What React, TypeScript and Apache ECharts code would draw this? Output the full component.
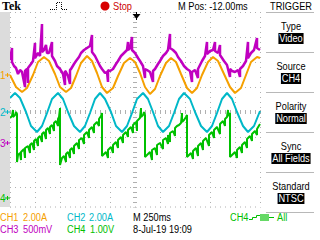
import React, { useEffect, useRef } from 'react';
import * as echarts from 'echarts';

// time in ms relative to screen centre, values in screen divisions
const ch1Data: number[][] = [
  [-1250, 1.48], [-1190, 1.0], [-1130, 0.8], [-1080, 0.96], [-1020, 1.48], [-970, 2.0], [-910, 2.2], [-860, 2.04],
  [-800, 1.52], [-750, 1.0], [-690, 0.8], [-640, 0.96], [-590, 1.44], [-540, 1.96], [-480, 2.24], [-430, 2.04],
  [-380, 1.56], [-330, 1.0], [-280, 0.76], [-220, 0.96], [-170, 1.44], [-110, 1.96], [-50, 2.16], [0, 2.0],
  [50, 1.56], [100, 1.0], [150, 0.72], [200, 0.92], [250, 1.44], [310, 1.96], [360, 2.16], [410, 2.0],
  [460, 1.52], [520, 0.96], [570, 0.76], [620, 0.96], [670, 1.48], [730, 2.0], [780, 2.2], [830, 2.04],
  [890, 1.52], [950, 1.0], [1000, 0.76], [1060, 0.96], [1110, 1.48], [1160, 2.0], [1220, 2.2], [1250, 2.16],
];

const ch2Data: number[][] = [
  [-1250, 0.56], [-1200, 0.76], [-1150, 0.56], [-1090, 0], [-1040, -0.56], [-980, -0.8], [-930, -0.56], [-880, -0.04],
  [-830, 0.52], [-770, 0.76], [-720, 0.52], [-670, 0], [-610, -0.56], [-550, -0.8], [-500, -0.56], [-450, -0.04],
  [-400, 0.52], [-350, 0.76], [-300, 0.52], [-240, 0], [-190, -0.56], [-130, -0.8], [-80, -0.56], [-30, -0.04],
  [20, 0.52], [80, 0.76], [130, 0.52], [180, 0], [230, -0.56], [280, -0.8], [340, -0.56], [390, -0.04],
  [440, 0.52], [490, 0.76], [550, 0.52], [600, 0], [660, -0.56], [720, -0.8], [770, -0.56], [820, -0.04],
  [870, 0.52], [920, 0.76], [970, 0.52], [1020, 0], [1080, -0.56], [1130, -0.8], [1190, -0.56], [1250, 0.04],
];

const ch3Data: number[][] = [
  [-1250, 2.08], [-1230, 2.56], [-1230, 2.0], [-1210, 1.84], [-1190, 1.76], [-1170, 1.52], [-1150, 1.68], [-1130, 1.6],
  [-1100, 1.0], [-1100, 1.64], [-1080, 1.72], [-1070, 1.16], [-1070, 1.76], [-1040, 1.92], [-1020, 2.04], [-1000, 2.76],
  [-1000, 2.16], [-970, 2.36], [-950, 2.24], [-930, 3.52], [-930, 2.4], [-910, 2.48], [-890, 2.68], [-880, 2.36],
  [-860, 2.36], [-830, 2.8], [-830, 2.24], [-800, 2.04], [-780, 1.84], [-750, 1.72], [-720, 1.52], [-700, 1.08],
  [-700, 1.64], [-690, 1.6], [-670, 1.44], [-650, 1.12], [-650, 1.68], [-640, 1.72], [-610, 1.92], [-590, 2.04],
  [-560, 2.2], [-540, 2.36], [-510, 2.48], [-480, 2.56], [-450, 2.64], [-430, 3.08], [-430, 2.4], [-400, 2.24],
  [-380, 2.08], [-350, 1.84], [-330, 1.72], [-300, 1.56], [-280, 1.6], [-270, 1.2], [-270, 1.68], [-250, 1.64],
  [-220, 1.72], [-190, 1.92], [-170, 2.04], [-140, 2.24], [-110, 2.36], [-80, 2.48], [-70, 2.8], [-70, 2.48],
  [-50, 2.56], [-30, 3.0], [-30, 2.48], [0, 2.36], [30, 2.16], [50, 2.04], [80, 1.84], [100, 1.36],
  [100, 1.72], [120, 1.68], [150, 1.6], [180, 1.2], [180, 1.64], [200, 1.72], [230, 1.92], [250, 2.04],
  [280, 2.24], [310, 2.36], [330, 2.48], [350, 3.12], [350, 2.56], [380, 2.48], [410, 2.36], [430, 2.2],
  [460, 2.04], [490, 1.84], [520, 1.72], [550, 1.64], [570, 1.2], [570, 1.6], [600, 1.68], [630, 1.36],
  [630, 1.72], [650, 1.88], [670, 2.04], [700, 2.24], [720, 2.8], [720, 2.32], [750, 2.44], [780, 2.48],
  [800, 2.8], [800, 2.44], [830, 2.36], [850, 2.68], [850, 2.28], [870, 2.16], [890, 2.04], [920, 1.88],
  [950, 1.4], [950, 1.72], [970, 1.64], [1000, 1.6], [1030, 1.68], [1050, 1.4], [1050, 1.72], [1080, 1.84],
  [1110, 2.04], [1130, 2.8], [1130, 2.16], [1160, 2.36], [1190, 2.48], [1220, 2.96], [1220, 2.56], [1250, 2.48],
];

const ch4Data: number[][] = [
  [-1250, -0.24], [-1230, -0.16], [-1220, 0.08], [-1220, -0.2], [-1200, -0.12], [-1190, 0], [-1180, -0.08], [-1180, -2.0],
  [-1170, -1.72], [-1150, -1.64], [-1140, -1.92], [-1140, -1.6], [-1110, -1.48], [-1100, -1.84], [-1100, -1.44], [-1070, -1.36],
  [-1050, -1.64], [-1050, -1.32], [-1030, -1.24], [-1010, -1.52], [-1010, -1.16], [-990, -1.08], [-970, -1.36], [-970, -1.04],
  [-950, -0.96], [-930, -1.2], [-930, -0.88], [-910, -0.8], [-890, -1.08], [-890, -0.72], [-870, -0.64], [-850, -0.88],
  [-850, -0.6], [-830, -0.52], [-810, -0.76], [-810, -0.44], [-790, -0.36], [-770, -0.56], [-770, -0.28], [-760, -0.2],
  [-750, 0.16], [-750, -0.16], [-750, -2.12], [-730, -1.84], [-710, -1.76], [-690, -2.0], [-690, -1.68], [-670, -1.6],
  [-650, -1.84], [-650, -1.52], [-630, -1.44], [-610, -1.68], [-610, -1.36], [-580, -1.24], [-560, -1.48], [-560, -1.12],
  [-530, -1.04], [-510, -1.28], [-510, -0.92], [-480, -0.8], [-460, -1.04], [-460, -0.72], [-430, -0.6], [-410, -0.84],
  [-410, -0.52], [-380, -0.4], [-360, -0.56], [-360, -0.28], [-340, -0.16], [-330, -0.04], [-330, -1.76], [-310, -1.68],
  [-290, -1.6], [-270, -1.84], [-270, -1.52], [-240, -1.4], [-220, -1.64], [-220, -1.32], [-190, -1.2], [-170, -1.44],
  [-170, -1.12], [-140, -1.0], [-120, -1.24], [-120, -0.92], [-90, -0.8], [-70, -1.0], [-70, -0.72], [-40, -0.6],
  [-20, -0.84], [-20, -0.52], [10, -0.4], [20, -0.76], [20, -0.36], [50, -0.24], [60, 0.16], [60, -0.2],
  [80, -0.12], [90, 0], [100, -0.12], [100, -1.8], [120, -1.72], [150, -1.6], [170, -1.92], [170, -1.52],
  [200, -1.44], [220, -1.72], [220, -1.32], [250, -1.24], [280, -1.48], [280, -1.12], [310, -1.04], [330, -1.28],
  [330, -0.92], [350, -1.2], [350, -0.84], [380, -0.76], [400, -0.96], [400, -0.64], [420, -0.56], [440, -0.52],
  [460, -0.44], [470, -0.04], [470, -0.4], [490, -0.32], [510, -0.2], [520, -0.12], [520, -1.8], [540, -1.72],
  [560, -1.64], [580, -1.88], [580, -1.56], [610, -1.44], [630, -1.76], [630, -1.36], [660, -1.24], [680, -1.52],
  [680, -1.16], [710, -1.04], [740, -1.36], [740, -0.92], [770, -0.8], [790, -1.04], [790, -0.72], [820, -0.6],
  [850, -0.88], [850, -0.48], [880, -0.36], [900, -0.56], [900, -0.28], [920, -0.2], [930, 0.08], [930, -0.16],
  [950, -0.04], [950, -1.8], [970, -1.72], [1000, -1.6], [1020, -1.84], [1020, -1.52], [1050, -1.4], [1070, -1.64],
  [1070, -1.32], [1100, -1.2], [1120, -1.44], [1120, -1.08], [1150, -0.96], [1170, -1.16], [1170, -0.88], [1200, -0.76],
  [1220, -0.92], [1220, -0.68], [1250, -0.48],
];

const channelNames = ['1', '2', '3', '4'];
const channelOffsets = [1.48, 0, -1.24, -3.44];
const channelColors = ['#f5a000', '#00b8c8', '#c000c0', '#00c000'];
const traceWidths = [2, 2, 2.5, 2];
const triggerTime = 12;

const scaleRow1 = [
  { text: 'CH1', x: 0, c: 0 }, { text: '2.00A', x: 23, c: 0 },
  { text: 'CH2', x: 67, c: 1 }, { text: '2.00A', x: 89, c: 1 },
];
const scaleRow2 = [
  { text: 'CH3', x: 0, c: 2 }, { text: '500mV', x: 23, c: 2 },
  { text: 'CH4', x: 67, c: 3 }, { text: '1.00V', x: 90, c: 3 },
];
const timebaseText = 'M 250ms';
const dateText = '8-Jul-19 19:09';
const posText = 'M Pos: -12.00ms';
const menuItems = [
  { label: 'Type', value: 'Video' },
  { label: 'Source', value: 'CH4' },
  { label: 'Polarity', value: 'Normal' },
  { label: 'Sync', value: 'All Fields' },
  { label: 'Standard', value: 'NTSC' },
];

const FONT = "'Liberation Sans', 'Roboto', sans-serif";
const GRID = '#b0b0b0';
const NARROW = 0.84;

function txt(text: string, x: number, y: number, fill: string, extra: any = {}, scaleX = NARROW) {
  return {
    type: 'text',
    z: 100,
    x, y, scaleX,
    style: {
      text, x: 0, y: 0, fill,
      fontSize: 11, fontFamily: FONT,
      align: 'left', textAlign: 'left',
      verticalAlign: 'middle', textVerticalAlign: 'middle',
      ...extra,
    },
  };
}

export default function App() {
  const ref = useRef<HTMLDivElement>(null);
  useEffect(() => {
    const chart = echarts.init(ref.current!, null, { renderer: 'svg' });
    const xBase = {
      type: 'value', min: -1250, max: 1250, interval: 250,
      axisLine: { show: true, onZero: true, lineStyle: { color: 'rgba(0,0,0,0)' } },
      axisTick: { show: true, length: 2, lineStyle: { color: GRID } },
      minorTick: { show: true, splitNumber: 5, length: 2, lineStyle: { color: GRID } },
      axisLabel: { show: false },
    };
    const yBase = {
      type: 'value', min: -4, max: 4, interval: 1,
      axisLine: { show: true, onZero: true, lineStyle: { color: 'rgba(0,0,0,0)' } },
      axisTick: { show: true, length: 2, lineStyle: { color: GRID } },
      minorTick: { show: true, splitNumber: 5, length: 2, lineStyle: { color: GRID } },
      axisLabel: { show: false },
    };
    const dotted = { show: true, lineStyle: { color: GRID, width: 1, type: [1, 4] } };
    const line = (data: number[][], i: number) => ({
      type: 'line', data, showSymbol: false, symbol: 'none', clip: true,
      lineStyle: { color: channelColors[i], width: traceWidths[i] }, itemStyle: { color: channelColors[i] }, z: 3,
    });
    chart.setOption({
      animation: false,
      backgroundColor: '#ffffff',
      grid: { left: 10, top: 12, width: 250, height: 200 },
      xAxis: [
        { ...xBase, position: 'bottom', splitLine: dotted },
        { ...xBase, position: 'top', splitLine: { show: false } },
      ],
      yAxis: [
        { ...yBase, position: 'left', splitLine: dotted },
        { ...yBase, position: 'right', splitLine: { show: false } },
      ],
      series: [line(ch1Data, 0), line(ch2Data, 1), line(ch3Data, 2), line(ch4Data, 3)],
    });

    const px = (x: number, y: number) =>
      chart.convertToPixel({ xAxisIndex: 0, yAxisIndex: 0 }, [x, y]) as number[];
    const leftEdge = px(-1250, 0)[0];
    const rightEdge = px(1250, 0)[0];
    const topEdge = px(0, 4)[1];
    const bottomVisible = 207;

    const g: any[] = [];
    g.push({ type: 'rect', z: 90, shape: { x: 0, y: topEdge, width: leftEdge, height: bottomVisible - topEdge }, style: { fill: '#dcdcdc' } });
    g.push({ type: 'rect', z: 90, shape: { x: 0, y: bottomVisible + 0.5, width: 262, height: 40 }, style: { fill: '#ffffff' } });
    g.push({ type: 'line', z: 91, shape: { x1: leftEdge, y1: bottomVisible, x2: rightEdge, y2: bottomVisible }, style: { stroke: GRID, lineWidth: 1, lineDash: [1, 4] } });

    channelOffsets.forEach((v, i) => {
      const y = px(-1250, v)[1];
      g.push(txt(channelNames[i], 0, y, channelColors[i], { fontSize: 10 }, 1));
      g.push({ type: 'line', z: 100, shape: { x1: 5, y1: y, x2: 10, y2: y }, style: { stroke: channelColors[i], lineWidth: 1 } });
      g.push({ type: 'line', z: 100, shape: { x1: 7.5, y1: y - 2, x2: 7.5, y2: y + 2 }, style: { stroke: channelColors[i], lineWidth: 1 } });
    });

    const tx = Math.round(px(triggerTime, 0)[0]) + 0.5;
    g.push({ type: 'line', z: 100, shape: { x1: tx, y1: 12, x2: tx, y2: 20 }, style: { stroke: '#000', lineWidth: 1 } });
    g.push({ type: 'polygon', z: 100, shape: { points: [[tx - 4, 14], [tx + 4, 14], [tx, 19]] }, style: { fill: '#000' } });

    g.push(txt('Tek', 2, 6, '#000', { fontSize: 12, fontFamily: "'Liberation Serif', 'DejaVu Serif', serif", fontWeight: 'bold' }, 1));
    g.push({ type: 'polyline', z: 100, shape: { points: [[50, 9.5], [56.5, 9.5], [56.5, 2.5], [61.5, 2.5], [61.5, 9.5], [68, 9.5]] }, style: { stroke: '#000', lineWidth: 1, lineDash: [1, 1], fill: null } });
    g.push({ type: 'circle', z: 100, shape: { cx: 105, cy: 6, r: 4.5 }, style: { fill: '#d80000' } });
    g.push(txt('Stop', 113, 6, '#cc0000'));
    g.push(txt(posText, 178, 6, '#000'));

    const cx = 291;
    g.push(txt('TRIGGER', cx, 6, '#000', { align: 'center', textAlign: 'center' }));
    [12, 52, 92, 132, 172, 212].forEach((y) => {
      g.push({ type: 'line', z: 100, shape: { x1: 266, y1: y + 0.5, x2: 314, y2: y + 0.5 }, style: { stroke: '#b8b8b8', lineWidth: 1 } });
    });
    menuItems.forEach((m, i) => {
      const base = 12 + i * 40;
      g.push(txt(m.label, cx, base + 14, '#000', { align: 'center', textAlign: 'center' }));
      g.push(txt(m.value, cx, base + 26.5, '#fff', { align: 'center', textAlign: 'center', backgroundColor: '#000', padding: [0, 1] }));
    });

    scaleRow1.forEach((s) => g.push(txt(s.text, s.x, 217, channelColors[s.c])));
    scaleRow2.forEach((s) => g.push(txt(s.text, s.x, 229, channelColors[s.c])));
    g.push(txt(timebaseText, 133, 217, '#000'));
    g.push(txt(dateText, 133, 229, '#000'));
    g.push(txt('CH4', 230, 217, channelColors[3]));
    g.push({ type: 'polyline', z: 100, shape: { points: [[249, 219.5], [252.5, 219.5], [252.5, 217.5], [256.5, 217.5], [256.5, 215.5], [260, 215.5]] }, style: { stroke: channelColors[3], lineWidth: 1, fill: null } });
    g.push({ type: 'rect', z: 100, shape: { x: 260, y: 214, width: 9, height: 7 }, style: { fill: 'rgba(0,192,0,0.6)' } });
    g.push({ type: 'line', z: 100, shape: { x1: 269, y1: 217.5, x2: 274, y2: 217.5 }, style: { stroke: channelColors[3], lineWidth: 1 } });
    g.push(txt('All', 277, 217, channelColors[3]));

    chart.setOption({ graphic: { elements: g } });
    return () => chart.dispose();
  }, []);
  return <div ref={ref} style={{ position: 'fixed', left: 0, top: 0, width: 320, height: 240 }} />;
}
